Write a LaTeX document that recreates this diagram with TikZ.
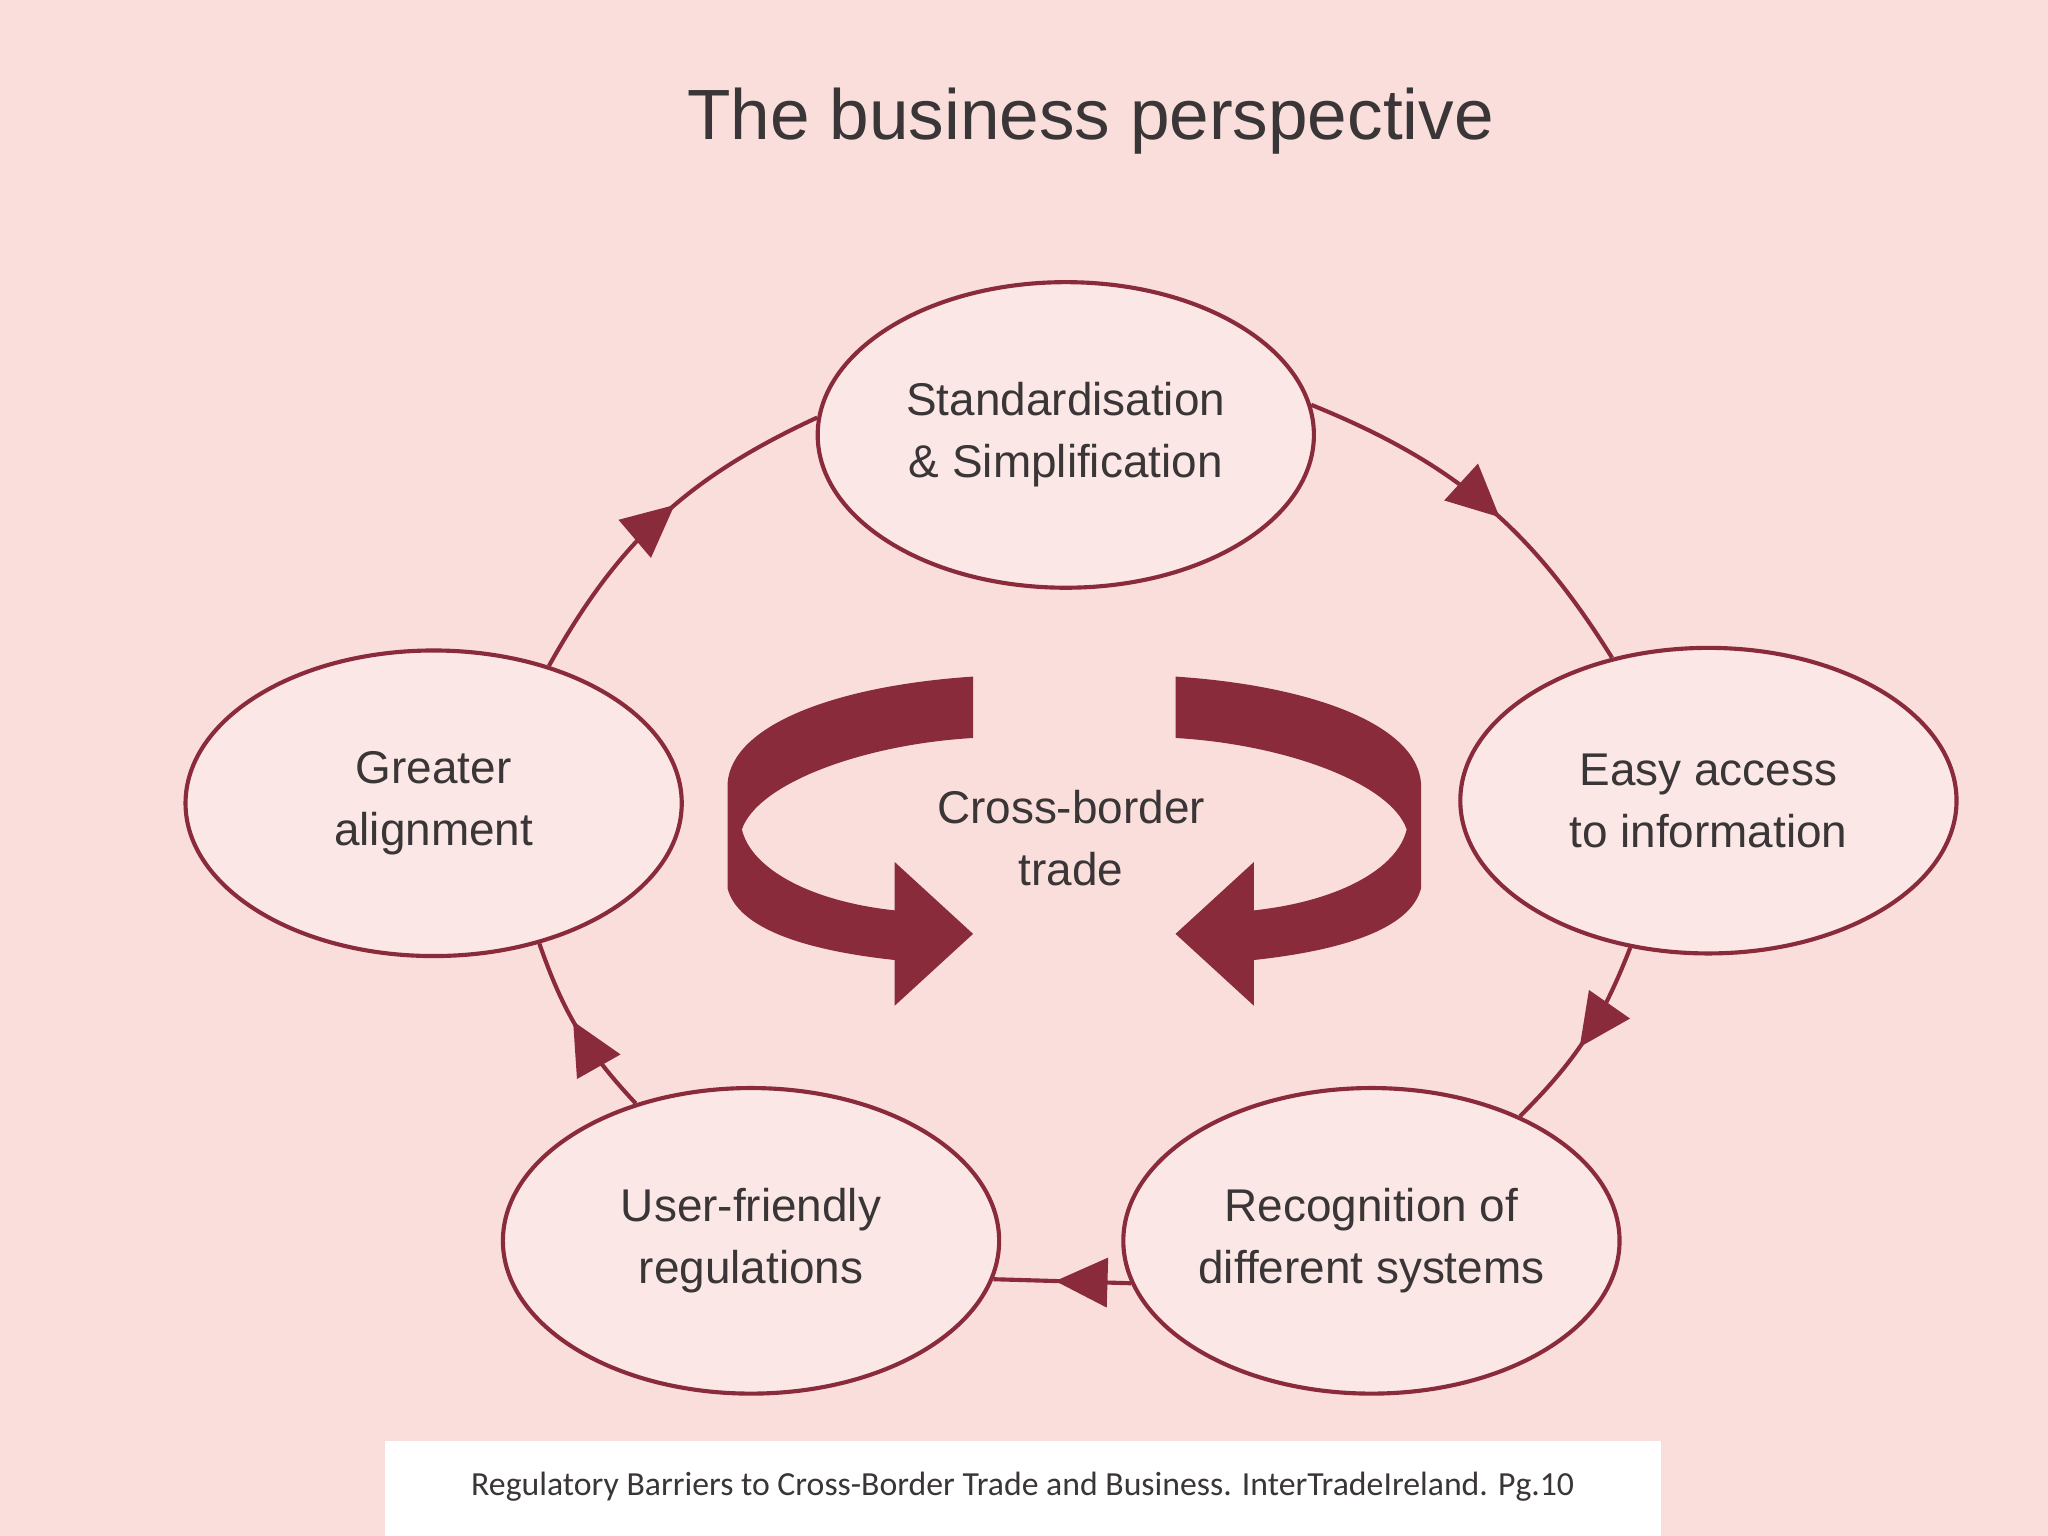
\documentclass[tikz,border=0pt]{standalone}
\usepackage{fontspec}
\setmainfont{Liberation Sans}
\newfontfamily\capt{Carlito}
\usetikzlibrary{arrows.meta,decorations.markings,shapes.geometric}
\definecolor{bg}{HTML}{F9DEDC}
\definecolor{ell}{HTML}{FBE8E6}
\definecolor{dred}{HTML}{8A2B3B}
\definecolor{txt}{HTML}{3A3536}
\begin{document}
\begin{tikzpicture}[x=0.02cm,y=-0.02cm,
  bub/.style={ellipse,draw=dred,fill=ell,line width=1.8pt,minimum width=7.6cm,minimum height=4.68cm,inner sep=0pt,align=center,font=\fontsize{20}{27}\selectfont,text=txt},
  link/.style={draw=dred,line width=1.8pt,postaction={decorate},decoration={markings,mark=at position 0.55 with {\arrow{Triangle[length=0.8cm,width=0.75cm]}}}}]
\useasboundingbox (0,0) rectangle (1568,1176);
\fill[bg] (0,0) rectangle (1568,1176);
\node[text=txt,font=\fontsize{31}{36}\selectfont] (title) at (835,93) {The business perspective};
\node[bub] (top) at (816,333) {Standardisation\\\& Simplification};
\node[bub] (right) at (1308,613) {Easy access\\to information};
\node[bub] (br) at (1050,950) {Recognition of\\different systems};
\node[bub] (bl) at (575,950) {User-friendly\\regulations};
\node[bub] (left) at (332,615) {Greater\\alignment};
\path[link] (left.50) to[bend left=18] (top.176);
\path[link] (top.7) to[bend left=18] (right.124);
\path[link] (right.242) to[bend left=12] (br.40);
\path[link] (br.190) -- (bl.351);
\path[link] (bl.130) to[bend left=12] (left.307);
\foreach \s/\sx in {0/1,1645/-1}{
\begin{scope}[shift={(\s,0)},xscale=\sx]
\fill[dred] (745,518) .. controls (640,525) and (560,555) .. (557,600) -- (557,680)
  .. controls (565,712) and (620,728) .. (685,735) -- (685,770) -- (745,715) -- (685,660) -- (685,697)
  .. controls (620,690) and (575,665) .. (568,635) .. controls (580,600) and (660,570) .. (745,565) -- cycle;
\end{scope}}
\node[text=txt,align=center,font=\fontsize{20}{27}\selectfont] (center) at (820,642) {Cross-border\\trade};
\fill[white] (295,1103) rectangle (1272,1176);
\node[font=\capt\fontsize{14.7}{17}\selectfont,text=txt] (cap) at (783,1138) {Regulatory Barriers to Cross-Border Trade and Business. InterTradeIreland. Pg.10};
\end{tikzpicture}
\end{document}
